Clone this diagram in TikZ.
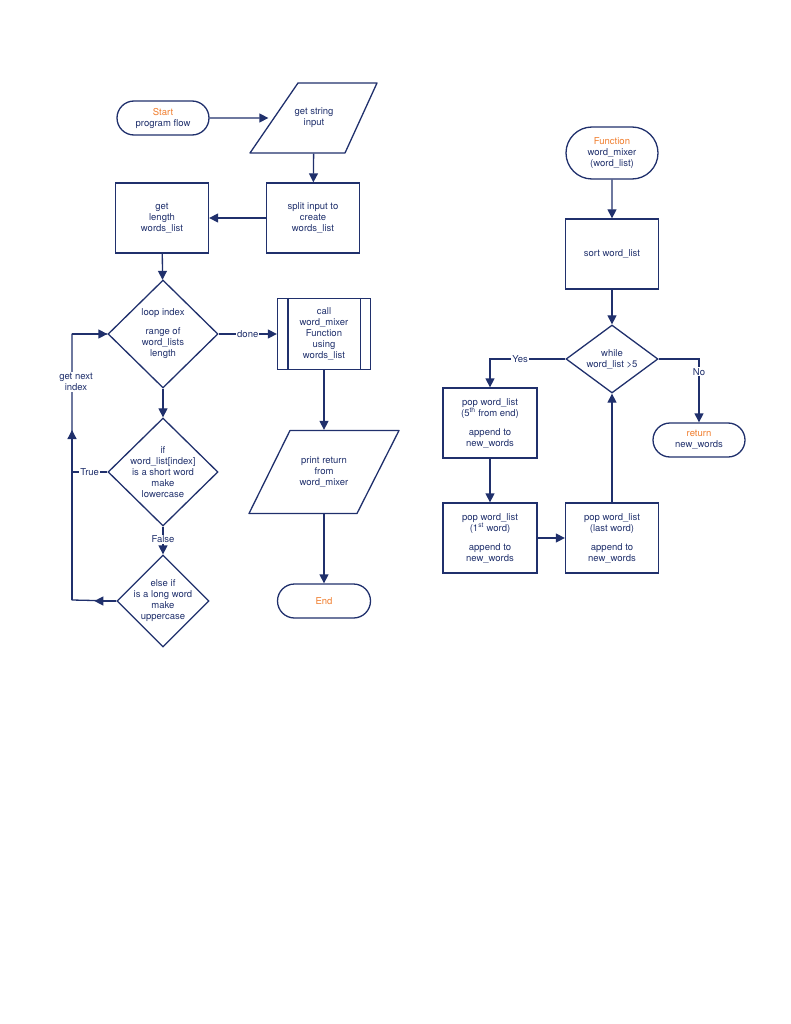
\documentclass[tikz,border=0pt]{standalone}
\usepackage{fontspec}
\setmainfont{TeX Gyre Heros}
\usetikzlibrary{arrows.meta,shapes.geometric,shapes.misc}
\definecolor{navy}{RGB}{32,48,108}
\definecolor{flowor}{RGB}{240,125,45}
\tikzset{
  base/.style={draw=navy, line width=1.3pt, text=navy, align=center,
               font=\fontsize{9.5}{11}\selectfont, inner sep=0pt},
  term/.style={base, rounded rectangle, minimum width=92pt, minimum height=34pt},
  box/.style={base, rectangle, minimum width=93pt, minimum height=70pt},
  io/.style={base, draw=none, rectangle},
  dec/.style={base, diamond, inner sep=0pt},
  arr/.style={draw=navy, line width=1.3pt, -{Triangle[length=9pt,width=9pt]}},
  ln/.style={draw=navy, line width=1.3pt, line join=round},
  lbl/.style={text=navy, font=\fontsize{9.5}{11}\selectfont, fill=white, inner sep=1pt, align=center}
}
\newcommand{\org}[1]{\textcolor{flowor}{#1}}
\begin{document}
\begin{tikzpicture}[x=1pt,y=-1pt]
\useasboundingbox (0,0) rectangle (791,1024);
% left flow
\node[term] (start) at (163,118) {\org{Start}\\program flow};
\node[io, minimum width=90pt, minimum height=70pt] (get) at (314,118) {get string\\input};
\draw[ln] (get.center) ++(-16,-35) -- ++(79,0) -- ++(-32,70) -- ++(-95,0) -- cycle;
\node[box] (split) at (313,218) {split input to\\create\\words\_list};
\node[box] (len) at (162,218) {get\\length\\words\_list};
\node[dec, minimum width=110pt, minimum height=108pt,
      label={[lbl,fill=none]center:loop index\\[8pt]range of\\word\_lists\\length}] (loop) at (163,334) {};
\node[box, minimum width=93pt, minimum height=71pt] (call) at (324,334) {call\\word\_mixer\\Function\\using\\words\_list};
\draw[ln] ([xshift=11pt]call.north west) -- ([xshift=11pt]call.south west);
\draw[ln] ([xshift=-11pt]call.north east) -- ([xshift=-11pt]call.south east);
\node[dec, minimum width=110pt, minimum height=108pt,
      label={[lbl,fill=none]center:if\\word\_list[index]\\is a short word\\make\\lowercase}] (if) at (163,472) {};
\node[dec, minimum width=92pt, minimum height=92pt,
      label={[lbl,fill=none]center:else if\\is a long word\\make\\uppercase}] (elif) at (163,601) {};
\node[io, minimum width=100pt, minimum height=83pt] (print) at (324,472) {print return\\from\\word\_mixer};
\draw[ln] (print.center) ++(-34,-41.5) -- ++(109,0) -- ++(-42,83) -- ++(-108,0) -- cycle;
\node[term, minimum width=93pt] (end) at (324,601) {\org{End}};
\coordinate (lx) at (72,600);
\coordinate (ly) at (72,334);

\draw[arr] (start) -- (get);
\draw[arr] (get) -- (split);
\draw[arr] (split) -- (len);
\draw[arr] (len) -- (loop);
\draw[arr] (loop) -- node[lbl]{done} (call);
\draw[arr] (loop) -- (if);
\draw[arr] (if) -- node[lbl, pos=0.45]{False} (elif);
\draw[arr] (call) -- (print);
\draw[arr] (print) -- (end);
\draw[ln] (elif.west) -- (lx) -- (ly) -- (loop.west);
\draw[arr] (elif.west) -- ([xshift=-22pt]elif.west);
\draw[arr] (lx) -- (72,430);
\draw[arr] (ly) -- (loop.west);
\draw[ln] (if.west) -- node[lbl]{True} (lx |- if.west);
\node[lbl, anchor=south] (gni) at (76,392) {get next\\index};

% right flow
\node[term, minimum height=52pt] (func) at (612,153) {\org{Function}\\word\_mixer\\(word\_list)};
\node[box] (sort) at (612,254) {sort word\_list};
\node[dec, minimum width=92pt, minimum height=68pt,
      label={[lbl,fill=none]center:while\\word\_list {>}5}] (while) at (612,359) {};
\node[box, minimum width=94pt] (fifth) at (490,423) {pop word\_list\\(5\textsuperscript{th} from end)\\[8pt]append to\\new\_words};
\node[box, minimum width=94pt] (first) at (490,538) {pop word\_list\\(1\textsuperscript{st} word)\\[8pt]append to\\new\_words};
\node[box] (last) at (612,538) {pop word\_list\\(last word)\\[8pt]append to\\new\_words};
\node[term] (ret) at (699,440) {\org{return}\\new\_words};

\draw[arr] (func) -- (sort);
\draw[arr] (sort) -- (while);
\draw[arr] (while.west) -- node[lbl, pos=0.6]{Yes} (fifth.north |- while.west) -- (fifth.north);
\draw[arr] (while.east) -- (ret.north |- while.east) -- node[lbl, pos=0.2]{No} (ret.north);
\draw[arr] (fifth) -- (first);
\draw[arr] (first) -- (last);
\draw[arr] (last) -- (while);
\end{tikzpicture}
\end{document}
